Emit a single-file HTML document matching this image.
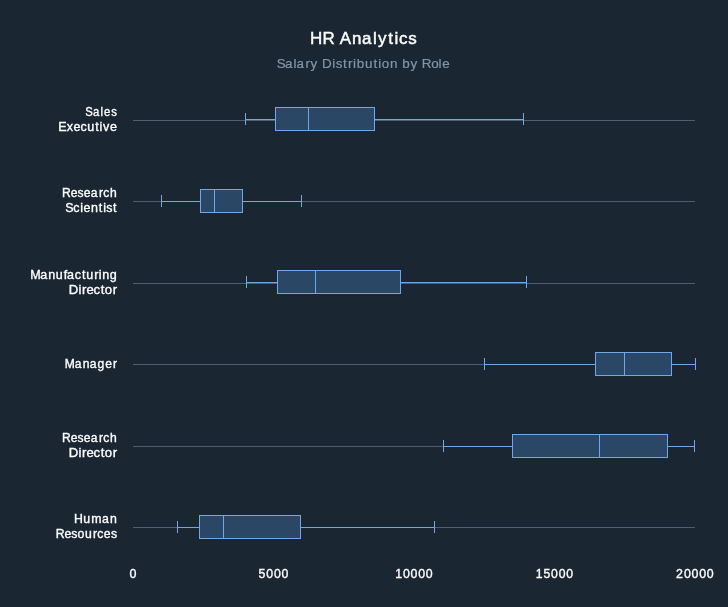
<!DOCTYPE html>
<html><head><meta charset="utf-8"><style>
html,body{margin:0;padding:0;background:#1a2733;width:728px;height:607px;overflow:hidden}
svg{display:block}
text{font-family:"Liberation Sans",sans-serif;font-kerning:none;font-variant-ligatures:none}
</style></head><body>
<svg width="728" height="607" viewBox="0 0 728 607">
<rect width="728" height="607" fill="#1a2733"/>
<line x1="133" x2="695" y1="120.5" y2="120.5" stroke="#555a6e" stroke-width="1"/>
<line x1="133" x2="695" y1="201.5" y2="201.5" stroke="#555a6e" stroke-width="1"/>
<line x1="133" x2="695" y1="283.5" y2="283.5" stroke="#555a6e" stroke-width="1"/>
<line x1="133" x2="695" y1="364.5" y2="364.5" stroke="#555a6e" stroke-width="1"/>
<line x1="133" x2="695" y1="446.5" y2="446.5" stroke="#555a6e" stroke-width="1"/>
<line x1="133" x2="695" y1="527.5" y2="527.5" stroke="#555a6e" stroke-width="1"/>
<path d="M245.5 119.5H275.5M374.5 119.5H523.5M245.5 113V125M523.5 113V125" stroke="#70a6ec" stroke-width="1" fill="none"/>
<rect x="275.5" y="107.5" width="99.0" height="23.0" fill="#2a4766" stroke="#70a6ec" stroke-width="1"/>
<path d="M308.5 107.5V130.5" stroke="#70a6ec" stroke-width="1"/>
<path d="M161.5 201.5H200.5M242.5 201.5H301.5M161.5 195V207M301.5 195V207" stroke="#70a6ec" stroke-width="1" fill="none"/>
<rect x="200.5" y="189.5" width="42.0" height="23.0" fill="#2a4766" stroke="#70a6ec" stroke-width="1"/>
<path d="M214.5 189.5V212.5" stroke="#70a6ec" stroke-width="1"/>
<path d="M246.5 282.5H277.5M400.5 282.5H526.5M246.5 276V288M526.5 276V288" stroke="#70a6ec" stroke-width="1" fill="none"/>
<rect x="277.5" y="270.5" width="123.0" height="23.0" fill="#2a4766" stroke="#70a6ec" stroke-width="1"/>
<path d="M315.5 270.5V293.5" stroke="#70a6ec" stroke-width="1"/>
<path d="M484.5 364.5H595.5M671.5 364.5H695.5M484.5 358V370M695.5 358V370" stroke="#70a6ec" stroke-width="1" fill="none"/>
<rect x="595.5" y="352.5" width="76.0" height="23.0" fill="#2a4766" stroke="#70a6ec" stroke-width="1"/>
<path d="M624.5 352.5V375.5" stroke="#70a6ec" stroke-width="1"/>
<path d="M443.5 446.5H512.5M667.5 446.5H694.5M443.5 440V452M694.5 440V452" stroke="#70a6ec" stroke-width="1" fill="none"/>
<rect x="512.5" y="434.5" width="155.0" height="23.0" fill="#2a4766" stroke="#70a6ec" stroke-width="1"/>
<path d="M599.5 434.5V457.5" stroke="#70a6ec" stroke-width="1"/>
<path d="M177.5 527.5H199.5M300.5 527.5H434.5M177.5 521V533M434.5 521V533" stroke="#70a6ec" stroke-width="1" fill="none"/>
<rect x="199.5" y="515.5" width="101.0" height="23.0" fill="#2a4766" stroke="#70a6ec" stroke-width="1"/>
<path d="M223.5 515.5V538.5" stroke="#70a6ec" stroke-width="1"/>
<g style="opacity:0.999">
<text transform="scale(0.9800,1)" x="316.31 329.15 341.50 346.81 359.24 369.39 380.65 385.77 396.20 402.55 407.10 416.71" y="43.8" style="font-size:17.34px;fill:#ffffff;stroke:#ffffff;stroke-width:0.45px">HR Analytics</text>
<text transform="scale(1.0148,1)" x="272.62 280.79 289.19 292.20 300.97 306.03 313.33 317.37 327.39 330.74 337.93 342.99 347.89 351.60 359.61 368.02 372.72 376.19 384.20 392.10 396.44 404.58 411.87 415.62 424.88 432.22 435.75" y="68" style="font-size:13.26px;fill:#8497a8;stroke:#8497a8;stroke-width:0.2px">Salary Distribution by Role</text>
<text transform="scale(0.9227,1)" x="92.46 100.73 109.03 112.81 120.61" y="115.9" style="font-size:12.24px;fill:#ffffff;stroke:#ffffff;stroke-width:0.35px">Sales</text>
<text transform="scale(1.0230,1)" x="56.98 65.19 71.98 78.64 85.34 93.06 97.37 100.75 107.52" y="131.1" style="font-size:12.24px;fill:#ffffff;stroke:#ffffff;stroke-width:0.35px">Executive</text>
<text transform="scale(0.9892,1)" x="62.75 71.54 78.30 84.79 91.78 100.05 104.47 111.19" y="196.8" style="font-size:12.24px;fill:#ffffff;stroke:#ffffff;stroke-width:0.35px">Research</text>
<text transform="scale(1.0192,1)" x="64.11 71.91 78.62 81.85 89.21 96.90 101.22 104.29 110.91" y="211.9" style="font-size:12.24px;fill:#ffffff;stroke:#ffffff;stroke-width:0.35px">Scientist</text>
<text transform="scale(1.0238,1)" x="29.49 39.39 47.17 54.55 62.21 65.57 73.03 80.02 84.33 92.07 96.57 99.88 107.23" y="279.0" style="font-size:12.24px;fill:#ffffff;stroke:#ffffff;stroke-width:0.35px">Manufacturing</text>
<text transform="scale(1.0750,1)" x="64.03 72.93 76.29 80.47 86.92 93.64 97.57 104.85" y="294.1" style="font-size:12.24px;fill:#ffffff;stroke:#ffffff;stroke-width:0.35px">Director</text>
<text transform="scale(0.9876,1)" x="65.47 75.68 83.74 90.84 98.79 106.50 114.33" y="367.7" style="font-size:12.24px;fill:#ffffff;stroke:#ffffff;stroke-width:0.35px">Manager</text>
<text transform="scale(0.9892,1)" x="62.75 71.54 78.30 84.79 91.78 100.05 104.47 111.19" y="441.8" style="font-size:12.24px;fill:#ffffff;stroke:#ffffff;stroke-width:0.35px">Research</text>
<text transform="scale(1.0750,1)" x="64.03 72.93 76.29 80.47 86.92 93.64 97.57 104.85" y="456.9" style="font-size:12.24px;fill:#ffffff;stroke:#ffffff;stroke-width:0.35px">Director</text>
<text transform="scale(1.0060,1)" x="73.48 82.75 90.71 101.39 109.30" y="522.6" style="font-size:12.24px;fill:#ffffff;stroke:#ffffff;stroke-width:0.35px">Human</text>
<text transform="scale(1.0016,1)" x="55.69 64.39 71.08 77.44 84.87 92.77 97.13 103.66 110.88" y="537.7" style="font-size:12.24px;fill:#ffffff;stroke:#ffffff;stroke-width:0.35px">Resources</text>
<text transform="scale(1.0180,1)" x="127.24" y="578" style="font-size:12.24px;fill:#ffffff;stroke:#ffffff;stroke-width:0.35px">0</text>
<text transform="scale(1.0037,1)" x="257.61 265.27 272.88 280.49" y="578" style="font-size:12.24px;fill:#ffffff;stroke:#ffffff;stroke-width:0.35px">5000</text>
<text transform="scale(1.0096,1)" x="391.48 399.10 406.67 414.24 421.81" y="578" style="font-size:12.24px;fill:#ffffff;stroke:#ffffff;stroke-width:0.35px">10000</text>
<text transform="scale(0.9979,1)" x="536.87 544.53 552.24 559.89 567.55" y="578" style="font-size:12.24px;fill:#ffffff;stroke:#ffffff;stroke-width:0.35px">15000</text>
<text transform="scale(1.0109,1)" x="668.83 676.54 684.10 691.66 699.22" y="578" style="font-size:12.24px;fill:#ffffff;stroke:#ffffff;stroke-width:0.35px">20000</text>
</g>
</svg>
</body></html>
